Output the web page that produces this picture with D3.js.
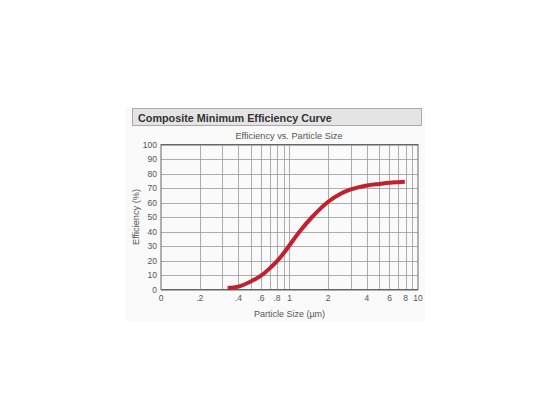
<!DOCTYPE html>
<html>
<head>
<meta charset="utf-8">
<script src="https://cdn.jsdelivr.net/npm/d3@7"></script>
<style>
  body { margin: 0; background: #fff; }
  text { font-family: "Liberation Sans", Arial, sans-serif; }
</style>
</head>
<body>
<svg id="chart"></svg>
<script>
// particle size (um) and efficiency (%)
const sizes = [0.33, 0.4, 0.5, 0.6, 0.7, 0.8, 0.9, 1, 1.2, 1.5, 2, 2.5, 3, 4, 5, 6, 7, 7.9];
const efficiency = [1, 2, 5.5, 9.5, 14.5, 19.5, 25, 30.5, 40, 50, 60.5, 66, 69, 71.7, 72.8, 73.6, 74, 74.3];

const xTicks = [0.1, 0.2, 0.4, 0.6, 0.8, 1, 2, 4, 6, 8, 10];
const xTickLabels = ["0", ".2", ".4", ".6", ".8", "1", "2", "4", "6", "8", "10"];
const xGrid = [0.2, 0.3, 0.4, 0.5, 0.6, 0.7, 0.8, 0.9, 1, 2, 3, 4, 5, 6, 7, 8, 9];
const yTicks = [0, 10, 20, 30, 40, 50, 60, 70, 80, 90, 100];

const titleText = "Composite Minimum Efficiency Curve";
const subtitleText = "Efficiency vs. Particle Size";

const width = 550, height = 420;

const svg = d3.select("#chart")
    .attr("width", width)
    .attr("height", height);

// faint panel behind everything
svg.append("rect")
    .attr("x", 125).attr("y", 108)
    .attr("width", 300).attr("height", 213)
    .attr("fill", "#fafafa");

// title bar
svg.append("rect")
    .attr("x", 132.5).attr("y", 108.5)
    .attr("width", 289).attr("height", 17)
    .attr("fill", "#e4e4e4")
    .attr("stroke", "#aaa");

svg.append("text")
    .attr("x", 138).attr("y", 121.5)
    .attr("font-size", 10.8)
    .attr("font-weight", "bold")
    .attr("fill", "#333")
    .text(titleText);

const x = d3.scaleLog().domain([0.1, 10]).range([161, 418]);
const y = d3.scaleLinear().domain([0, 100]).range([289.5, 144.5]);

svg.append("text")
    .attr("x", 289).attr("y", 139)
    .attr("text-anchor", "middle")
    .attr("font-size", 9.2)
    .attr("fill", "#555")
    .text(subtitleText);

// grid
const grid = svg.append("g");
grid.selectAll(".vgrid")
    .data(xGrid)
    .enter()
    .append("line")
    .attr("x1", d => Math.round(x(d)) + 0.5)
    .attr("x2", d => Math.round(x(d)) + 0.5)
    .attr("y1", y(100))
    .attr("y2", y(0))
    .attr("stroke", "#999")
    .attr("stroke-width", 0.8);

grid.selectAll(".hgrid")
    .data(yTicks)
    .enter()
    .append("line")
    .attr("x1", x(0.1))
    .attr("x2", x(10))
    .attr("y1", d => Math.round(y(d)) + 0.5)
    .attr("y2", d => Math.round(y(d)) + 0.5)
    .attr("stroke", "#999")
    .attr("stroke-width", 0.8);

// frame
svg.append("rect")
    .attr("x", x(0.1)).attr("y", y(100))
    .attr("width", x(10) - x(0.1))
    .attr("height", y(0) - y(100))
    .attr("fill", "none")
    .attr("stroke", "#666")
    .attr("stroke-width", 1);

// tick labels
svg.selectAll(".ylab")
    .data(yTicks)
    .enter()
    .append("text")
    .attr("x", 157)
    .attr("y", d => y(d) + 3)
    .attr("text-anchor", "end")
    .attr("font-size", 8.5)
    .attr("fill", "#555")
    .text(d => d);

svg.selectAll(".xlab")
    .data(xTicks)
    .enter()
    .append("text")
    .attr("x", d => x(d))
    .attr("y", 301)
    .attr("text-anchor", "middle")
    .attr("font-size", 8.5)
    .attr("fill", "#555")
    .text((d, i) => xTickLabels[i]);

// axis titles
svg.append("text")
    .attr("x", 289.5).attr("y", 316.5)
    .attr("text-anchor", "middle")
    .attr("font-size", 9)
    .attr("fill", "#555")
    .text("Particle Size (µm)");

svg.append("text")
    .attr("transform", `translate(139,${(y(0) + y(100)) / 2}) rotate(-90)`)
    .attr("text-anchor", "middle")
    .attr("font-size", 9.2)
    .attr("fill", "#555")
    .text("Efficiency (%)");

// curve
const line = d3.line()
    .x(d => x(d[0]))
    .y(d => y(d[1]))
    .curve(d3.curveCatmullRom.alpha(0.5));

svg.append("path")
    .datum(sizes.map((s, i) => [s, efficiency[i]]))
    .attr("d", line)
    .attr("fill", "none")
    .attr("stroke", "#c41f2d")
    .attr("stroke-width", 4);
</script>
</body>
</html>
